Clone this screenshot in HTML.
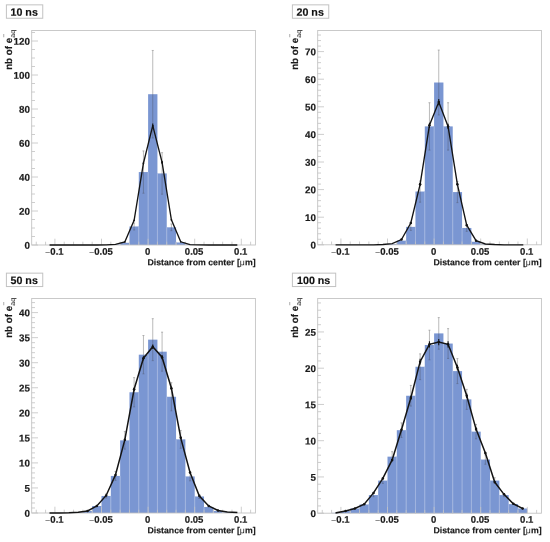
<!DOCTYPE html>
<html lang="en"><head><meta charset="utf-8"><title>Distance from center histograms</title>
<style>html,body{margin:0;padding:0;background:#fff}svg{display:block}</style></head>
<body>
<svg width="550" height="542" viewBox="0 0 550 542" font-family='"Liberation Sans", sans-serif' text-rendering="geometricPrecision">
<rect width="550" height="542" fill="#fff"/>
<g><rect x="110.82" y="244.49" width="9.32" height="0.51" fill="#7a96d2"/>
<rect x="120.14" y="242.79" width="9.32" height="2.21" fill="#7a96d2"/>
<rect x="129.46" y="226.47" width="9.32" height="18.53" fill="#7a96d2"/>
<rect x="138.78" y="172.07" width="9.32" height="72.93" fill="#7a96d2"/>
<rect x="148.1" y="94.21" width="9.32" height="150.79" fill="#7a96d2"/>
<rect x="157.42" y="173.43" width="9.32" height="71.57" fill="#7a96d2"/>
<rect x="166.74" y="227.32" width="9.32" height="17.68" fill="#7a96d2"/>
<rect x="176.06" y="242.45" width="9.32" height="2.55" fill="#7a96d2"/>
<rect x="185.38" y="244.49" width="9.32" height="0.51" fill="#7a96d2"/>
<rect x="128.96" y="242.79" width="1" height="2.21" fill="#a0b4df"/>
<rect x="138.28" y="226.47" width="1" height="18.53" fill="#a0b4df"/>
<rect x="147.6" y="172.07" width="1" height="72.93" fill="#a0b4df"/>
<rect x="156.92" y="173.43" width="1" height="71.57" fill="#a0b4df"/>
<rect x="166.24" y="227.32" width="1" height="17.68" fill="#a0b4df"/>
<rect x="175.56" y="242.45" width="1" height="2.55" fill="#a0b4df"/>
<rect x="31.7" y="30.5" width="223.7" height="214.5" fill="none" stroke="#c0c0c0" stroke-width="0.85"/>
<path d="M36.26 245v-3.3 M45.58 245v-3.3 M54.9 245v-6.3 M64.22 245v-3.3 M73.54 245v-3.3 M82.86 245v-3.3 M92.18 245v-3.3 M101.5 245v-6.3 M110.82 245v-3.3 M120.14 245v-3.3 M129.46 245v-3.3 M138.78 245v-3.3 M148.1 245v-6.3 M157.42 245v-3.3 M166.74 245v-3.3 M176.06 245v-3.3 M185.38 245v-3.3 M194.7 245v-6.3 M204.02 245v-3.3 M213.34 245v-3.3 M222.66 245v-3.3 M231.98 245v-3.3 M241.3 245v-6.3 M250.62 245v-3.3 M31.7 245h6.3 M31.7 236.5h3.3 M31.7 228h3.3 M31.7 219.5h3.3 M31.7 211h6.3 M31.7 202.5h3.3 M31.7 194h3.3 M31.7 185.5h3.3 M31.7 177h6.3 M31.7 168.5h3.3 M31.7 160h3.3 M31.7 151.5h3.3 M31.7 143h6.3 M31.7 134.5h3.3 M31.7 126h3.3 M31.7 117.5h3.3 M31.7 109h6.3 M31.7 100.5h3.3 M31.7 92h3.3 M31.7 83.5h3.3 M31.7 75h6.3 M31.7 66.5h3.3 M31.7 58h3.3 M31.7 49.5h3.3 M31.7 41h6.3 M31.7 32.5h3.3" stroke="#c2c2c2" stroke-width="0.8" fill="none"/>
<path d="M134.12 222.95V226.47M133.12 222.95h2 M143.44 150.92V172.07M142.44 150.92h2 M152.76 50.48V94.21M151.76 50.48h2 M162.08 152.67V173.43M161.08 152.67h2 M171.4 223.96V227.32M170.4 223.96h2" stroke="#8c8c8c" stroke-width="0.6" fill="none"/>
<path d="M134.12 226.47V229.99M133.12 229.99h2 M143.44 172.07V193.22M142.44 193.22h2 M152.76 94.21V137.94M151.76 137.94h2 M162.08 173.43V194.19M161.08 194.19h2 M171.4 227.32V230.68M170.4 230.68h2" stroke="#5a6684" stroke-width="0.6" fill="none"/>
<path d="M50.24 245 L59.56 245 L68.88 245 L78.2 245 L87.52 245 L96.84 245 L106.16 244.83 L115.48 244.32 L124.8 241.94 L134.12 220.35 L143.44 163.23 L152.76 125.66 L162.08 162.38 L171.4 219.84 L180.72 241.77 L190.04 244.66 L199.36 244.91 L208.68 245 L218 245 L227.32 245 L236.64 245" stroke="#141414" stroke-width="1.35" fill="none" stroke-linejoin="miter" stroke-linecap="square"/>
<g fill="#111"><circle cx="124.8" cy="241.94" r="0.85"/><circle cx="134.12" cy="220.35" r="0.85"/><circle cx="143.44" cy="163.23" r="0.85"/><circle cx="152.76" cy="125.66" r="0.85"/><circle cx="162.08" cy="162.38" r="0.85"/><circle cx="171.4" cy="219.84" r="0.85"/><circle cx="180.72" cy="241.77" r="0.85"/></g>
<path d="M143.44 161.81v2.85 M152.76 123.58v4.15 M162.08 160.94v2.88" stroke="#111" stroke-width="1.1" fill="none"/>
<g font-size="9.8" font-weight="bold" fill="#1a1a1a" stroke="#1a1a1a" stroke-width="0.18"><text transform="translate(54.35 254.75) rotate(0.03)" text-anchor="middle" font-size="9.55"><tspan font-size="9" font-weight="normal" stroke="none" dy="0.6">−</tspan><tspan dy="-0.6">0.1</tspan></text><text transform="translate(100.95 254.75) rotate(0.03)" text-anchor="middle" font-size="9.55"><tspan font-size="9" font-weight="normal" stroke="none" dy="0.6">−</tspan><tspan dy="-0.6">0.05</tspan></text><text transform="translate(147.55 254.75) rotate(0.03)" text-anchor="middle" font-size="9.55">0</text><text transform="translate(194.15 254.75) rotate(0.03)" text-anchor="middle" font-size="9.55">0.05</text><text transform="translate(240.75 254.75) rotate(0.03)" text-anchor="middle" font-size="9.55">0.1</text><text transform="translate(29.9 248.7) rotate(0.03)" text-anchor="end">0</text><text transform="translate(29.9 214.7) rotate(0.03)" text-anchor="end">20</text><text transform="translate(29.9 180.7) rotate(0.03)" text-anchor="end">40</text><text transform="translate(29.9 146.7) rotate(0.03)" text-anchor="end">60</text><text transform="translate(29.9 112.7) rotate(0.03)" text-anchor="end">80</text><text transform="translate(29.9 78.7) rotate(0.03)" text-anchor="end">100</text><text transform="translate(29.9 44.7) rotate(0.03)" text-anchor="end">120</text></g>
<text transform="translate(255.6 265.3) rotate(0.03)" text-anchor="end" font-size="8.75" font-weight="bold" fill="#1a1a1a" stroke="#1a1a1a" stroke-width="0.15">Distance from center [<tspan font-weight="normal" stroke="none">μ</tspan>m]</text>
<text transform="translate(11.7 37.9) rotate(-90)" text-anchor="end" font-size="9.75" font-weight="bold" fill="#1a1a1a" stroke="#1a1a1a" stroke-width="0.18">nb of e</text>
<text transform="translate(15.1 37.7) rotate(-90)" font-size="7" font-weight="normal" fill="#111">aq</text>
<text transform="translate(6.3 37.5) rotate(-90)" font-size="6.4" font-weight="normal" fill="#555">−</text>
<rect x="6.4" y="4.85" width="36.35" height="13.4" fill="#fff" stroke="#c2c2c2" stroke-width="1"/>
<text transform="translate(24.18 15.7) rotate(0.03)" text-anchor="middle" font-size="10.7" font-weight="bold" fill="#111" stroke="#111" stroke-width="0.18">10 ns</text></g>
<g><rect x="387.5" y="243.97" width="9.32" height="0.83" fill="#7a96d2"/>
<rect x="396.82" y="240.66" width="9.32" height="4.14" fill="#7a96d2"/>
<rect x="406.14" y="226.86" width="9.32" height="17.94" fill="#7a96d2"/>
<rect x="415.46" y="191.53" width="9.32" height="53.27" fill="#7a96d2"/>
<rect x="424.78" y="126.4" width="9.32" height="118.4" fill="#7a96d2"/>
<rect x="434.1" y="82.51" width="9.32" height="162.29" fill="#7a96d2"/>
<rect x="443.42" y="126.4" width="9.32" height="118.4" fill="#7a96d2"/>
<rect x="452.74" y="192.08" width="9.32" height="52.72" fill="#7a96d2"/>
<rect x="462.06" y="227.96" width="9.32" height="16.84" fill="#7a96d2"/>
<rect x="471.38" y="241.76" width="9.32" height="3.04" fill="#7a96d2"/>
<rect x="480.7" y="244.25" width="9.32" height="0.55" fill="#7a96d2"/>
<rect x="405.64" y="240.66" width="1" height="4.14" fill="#a0b4df"/>
<rect x="414.96" y="226.86" width="1" height="17.94" fill="#a0b4df"/>
<rect x="424.28" y="191.53" width="1" height="53.27" fill="#a0b4df"/>
<rect x="433.6" y="126.4" width="1" height="118.4" fill="#a0b4df"/>
<rect x="442.92" y="126.4" width="1" height="118.4" fill="#a0b4df"/>
<rect x="452.24" y="192.08" width="1" height="52.72" fill="#a0b4df"/>
<rect x="461.56" y="227.96" width="1" height="16.84" fill="#a0b4df"/>
<rect x="470.88" y="241.76" width="1" height="3.04" fill="#a0b4df"/>
<rect x="317.7" y="30.5" width="223.7" height="214.3" fill="none" stroke="#c0c0c0" stroke-width="0.85"/>
<path d="M322.26 244.8v-3.3 M331.58 244.8v-3.3 M340.9 244.8v-6.3 M350.22 244.8v-3.3 M359.54 244.8v-3.3 M368.86 244.8v-3.3 M378.18 244.8v-3.3 M387.5 244.8v-6.3 M396.82 244.8v-3.3 M406.14 244.8v-3.3 M415.46 244.8v-3.3 M424.78 244.8v-3.3 M434.1 244.8v-6.3 M443.42 244.8v-3.3 M452.74 244.8v-3.3 M462.06 244.8v-3.3 M471.38 244.8v-3.3 M480.7 244.8v-6.3 M490.02 244.8v-3.3 M499.34 244.8v-3.3 M508.66 244.8v-3.3 M517.98 244.8v-3.3 M527.3 244.8v-6.3 M536.62 244.8v-3.3 M317.7 244.8h6.3 M317.7 239.28h3.3 M317.7 233.76h3.3 M317.7 228.24h3.3 M317.7 222.72h3.3 M317.7 217.2h6.3 M317.7 211.68h3.3 M317.7 206.16h3.3 M317.7 200.64h3.3 M317.7 195.12h3.3 M317.7 189.6h6.3 M317.7 184.08h3.3 M317.7 178.56h3.3 M317.7 173.04h3.3 M317.7 167.52h3.3 M317.7 162h6.3 M317.7 156.48h3.3 M317.7 150.96h3.3 M317.7 145.44h3.3 M317.7 139.92h3.3 M317.7 134.4h6.3 M317.7 128.88h3.3 M317.7 123.36h3.3 M317.7 117.84h3.3 M317.7 112.32h3.3 M317.7 106.8h6.3 M317.7 101.28h3.3 M317.7 95.76h3.3 M317.7 90.24h3.3 M317.7 84.72h3.3 M317.7 79.2h6.3 M317.7 73.68h3.3 M317.7 68.16h3.3 M317.7 62.64h3.3 M317.7 57.12h3.3 M317.7 51.6h6.3 M317.7 46.08h3.3 M317.7 40.56h3.3 M317.7 35.04h3.3" stroke="#c2c2c2" stroke-width="0.8" fill="none"/>
<path d="M410.8 223.27V226.86M409.8 223.27h2 M420.12 180.88V191.53M419.12 180.88h2 M429.44 102.72V126.4M428.44 102.72h2 M438.76 50.05V82.51M437.76 50.05h2 M448.08 102.72V126.4M447.08 102.72h2 M457.4 181.54V192.08M456.4 181.54h2 M466.72 224.6V227.96M465.72 224.6h2" stroke="#8c8c8c" stroke-width="0.6" fill="none"/>
<path d="M410.8 226.86V230.45M409.8 230.45h2 M420.12 191.53V202.19M419.12 202.19h2 M429.44 126.4V150.08M428.44 150.08h2 M438.76 82.51V114.97M437.76 114.97h2 M448.08 126.4V150.08M447.08 150.08h2 M457.4 192.08V202.63M456.4 202.63h2 M466.72 227.96V231.33M465.72 231.33h2" stroke="#5a6684" stroke-width="0.6" fill="none"/>
<path d="M336.24 244.8 L345.56 244.8 L354.88 244.8 L364.2 244.8 L373.52 244.8 L382.84 244.52 L392.16 243.7 L401.48 239.56 L410.8 223 L420.12 184.36 L429.44 125.29 L438.76 102.11 L448.08 126.4 L457.4 184.36 L466.72 225.2 L476.04 240.66 L485.36 243.97 L494.68 244.52 L504 244.8 L513.32 244.8 L522.64 244.8" stroke="#141414" stroke-width="1.35" fill="none" stroke-linejoin="miter" stroke-linecap="square"/>
<g fill="#111"><circle cx="401.48" cy="239.56" r="1.25"/><circle cx="410.8" cy="223" r="1.25"/><circle cx="420.12" cy="184.36" r="1.25"/><circle cx="429.44" cy="125.29" r="1.25"/><circle cx="438.76" cy="102.11" r="1.25"/><circle cx="448.08" cy="126.4" r="1.25"/><circle cx="457.4" cy="184.36" r="1.25"/><circle cx="466.72" cy="225.2" r="1.25"/><circle cx="476.04" cy="240.66" r="1.25"/></g>
<path d="M420.12 183.03v2.66 M429.44 122.66v5.26 M438.76 98.97v6.28 M448.08 123.79v5.21 M457.4 183.03v2.66" stroke="#111" stroke-width="1.1" fill="none"/>
<g font-size="9.8" font-weight="bold" fill="#1a1a1a" stroke="#1a1a1a" stroke-width="0.18"><text transform="translate(340.35 254.75) rotate(0.03)" text-anchor="middle" font-size="9.55"><tspan font-size="9" font-weight="normal" stroke="none" dy="0.6">−</tspan><tspan dy="-0.6">0.1</tspan></text><text transform="translate(386.95 254.75) rotate(0.03)" text-anchor="middle" font-size="9.55"><tspan font-size="9" font-weight="normal" stroke="none" dy="0.6">−</tspan><tspan dy="-0.6">0.05</tspan></text><text transform="translate(433.55 254.75) rotate(0.03)" text-anchor="middle" font-size="9.55">0</text><text transform="translate(480.15 254.75) rotate(0.03)" text-anchor="middle" font-size="9.55">0.05</text><text transform="translate(526.75 254.75) rotate(0.03)" text-anchor="middle" font-size="9.55">0.1</text><text transform="translate(315.9 248.5) rotate(0.03)" text-anchor="end">0</text><text transform="translate(315.9 220.9) rotate(0.03)" text-anchor="end">10</text><text transform="translate(315.9 193.3) rotate(0.03)" text-anchor="end">20</text><text transform="translate(315.9 165.7) rotate(0.03)" text-anchor="end">30</text><text transform="translate(315.9 138.1) rotate(0.03)" text-anchor="end">40</text><text transform="translate(315.9 110.5) rotate(0.03)" text-anchor="end">50</text><text transform="translate(315.9 82.9) rotate(0.03)" text-anchor="end">60</text><text transform="translate(315.9 55.3) rotate(0.03)" text-anchor="end">70</text></g>
<text transform="translate(541.6 265.3) rotate(0.03)" text-anchor="end" font-size="8.75" font-weight="bold" fill="#1a1a1a" stroke="#1a1a1a" stroke-width="0.15">Distance from center [<tspan font-weight="normal" stroke="none">μ</tspan>m]</text>
<text transform="translate(297.7 37.9) rotate(-90)" text-anchor="end" font-size="9.75" font-weight="bold" fill="#1a1a1a" stroke="#1a1a1a" stroke-width="0.18">nb of e</text>
<text transform="translate(301.1 37.7) rotate(-90)" font-size="7" font-weight="normal" fill="#111">aq</text>
<text transform="translate(292.3 37.5) rotate(-90)" font-size="6.4" font-weight="normal" fill="#555">−</text>
<rect x="292.4" y="4.85" width="36.35" height="13.4" fill="#fff" stroke="#c2c2c2" stroke-width="1"/>
<text transform="translate(310.18 15.7) rotate(0.03)" text-anchor="middle" font-size="10.7" font-weight="bold" fill="#111" stroke="#111" stroke-width="0.18">20 ns</text></g>
<g><rect x="73.54" y="512.5" width="9.32" height="0.5" fill="#7a96d2"/>
<rect x="82.86" y="511" width="9.32" height="2" fill="#7a96d2"/>
<rect x="92.18" y="505.99" width="9.32" height="7.01" fill="#7a96d2"/>
<rect x="101.5" y="495.97" width="9.32" height="17.03" fill="#7a96d2"/>
<rect x="110.82" y="475.93" width="9.32" height="37.07" fill="#7a96d2"/>
<rect x="120.14" y="440.36" width="9.32" height="72.64" fill="#7a96d2"/>
<rect x="129.46" y="392.26" width="9.32" height="120.74" fill="#7a96d2"/>
<rect x="138.78" y="354.68" width="9.32" height="158.32" fill="#7a96d2"/>
<rect x="148.1" y="339.65" width="9.32" height="173.35" fill="#7a96d2"/>
<rect x="157.42" y="351.68" width="9.32" height="161.32" fill="#7a96d2"/>
<rect x="166.74" y="396.77" width="9.32" height="116.23" fill="#7a96d2"/>
<rect x="176.06" y="439.35" width="9.32" height="73.65" fill="#7a96d2"/>
<rect x="185.38" y="476.43" width="9.32" height="36.57" fill="#7a96d2"/>
<rect x="194.7" y="496.47" width="9.32" height="16.53" fill="#7a96d2"/>
<rect x="204.02" y="506.99" width="9.32" height="6.01" fill="#7a96d2"/>
<rect x="213.34" y="511" width="9.32" height="2" fill="#7a96d2"/>
<rect x="222.66" y="512.5" width="9.32" height="0.5" fill="#7a96d2"/>
<rect x="91.68" y="511" width="1" height="2" fill="#a0b4df"/>
<rect x="101" y="505.99" width="1" height="7.01" fill="#a0b4df"/>
<rect x="110.32" y="495.97" width="1" height="17.03" fill="#a0b4df"/>
<rect x="119.64" y="475.93" width="1" height="37.07" fill="#a0b4df"/>
<rect x="128.96" y="440.36" width="1" height="72.64" fill="#a0b4df"/>
<rect x="138.28" y="392.26" width="1" height="120.74" fill="#a0b4df"/>
<rect x="147.6" y="354.68" width="1" height="158.32" fill="#a0b4df"/>
<rect x="156.92" y="351.68" width="1" height="161.32" fill="#a0b4df"/>
<rect x="166.24" y="396.77" width="1" height="116.23" fill="#a0b4df"/>
<rect x="175.56" y="439.35" width="1" height="73.65" fill="#a0b4df"/>
<rect x="184.88" y="476.43" width="1" height="36.57" fill="#a0b4df"/>
<rect x="194.2" y="496.47" width="1" height="16.53" fill="#a0b4df"/>
<rect x="203.52" y="506.99" width="1" height="6.01" fill="#a0b4df"/>
<rect x="212.84" y="511" width="1" height="2" fill="#a0b4df"/>
<rect x="31.7" y="298.5" width="223.7" height="214.5" fill="none" stroke="#c0c0c0" stroke-width="0.85"/>
<path d="M36.26 513v-3.3 M45.58 513v-3.3 M54.9 513v-6.3 M64.22 513v-3.3 M73.54 513v-3.3 M82.86 513v-3.3 M92.18 513v-3.3 M101.5 513v-6.3 M110.82 513v-3.3 M120.14 513v-3.3 M129.46 513v-3.3 M138.78 513v-3.3 M148.1 513v-6.3 M157.42 513v-3.3 M166.74 513v-3.3 M176.06 513v-3.3 M185.38 513v-3.3 M194.7 513v-6.3 M204.02 513v-3.3 M213.34 513v-3.3 M222.66 513v-3.3 M231.98 513v-3.3 M241.3 513v-6.3 M250.62 513v-3.3 M31.7 513h6.3 M31.7 507.99h3.3 M31.7 502.98h3.3 M31.7 497.97h3.3 M31.7 492.96h3.3 M31.7 487.95h6.3 M31.7 482.94h3.3 M31.7 477.93h3.3 M31.7 472.92h3.3 M31.7 467.91h3.3 M31.7 462.9h6.3 M31.7 457.89h3.3 M31.7 452.88h3.3 M31.7 447.87h3.3 M31.7 442.86h3.3 M31.7 437.85h6.3 M31.7 432.84h3.3 M31.7 427.83h3.3 M31.7 422.82h3.3 M31.7 417.81h3.3 M31.7 412.8h6.3 M31.7 407.79h3.3 M31.7 402.78h3.3 M31.7 397.77h3.3 M31.7 392.76h3.3 M31.7 387.75h6.3 M31.7 382.74h3.3 M31.7 377.73h3.3 M31.7 372.72h3.3 M31.7 367.71h3.3 M31.7 362.7h6.3 M31.7 357.69h3.3 M31.7 352.68h3.3 M31.7 347.67h3.3 M31.7 342.66h3.3 M31.7 337.65h6.3 M31.7 332.64h3.3 M31.7 327.63h3.3 M31.7 322.62h3.3 M31.7 317.61h3.3 M31.7 312.6h6.3 M31.7 307.59h3.3 M31.7 302.58h3.3" stroke="#c2c2c2" stroke-width="0.8" fill="none"/>
<path d="M106.16 493.9V495.97M105.16 493.9h2 M115.48 471.44V475.93M114.48 471.44h2 M124.8 431.56V440.36M123.8 431.56h2 M134.12 377.65V392.26M133.12 377.65h2 M143.44 335.53V354.68M142.44 335.53h2 M152.76 318.68V339.65M151.76 318.68h2 M162.08 332.16V351.68M161.08 332.16h2 M171.4 382.7V396.77M170.4 382.7h2 M180.72 430.44V439.35M179.72 430.44h2 M190.04 472V476.43M189.04 472h2 M199.36 494.47V496.47M198.36 494.47h2" stroke="#8c8c8c" stroke-width="0.6" fill="none"/>
<path d="M106.16 495.97V498.03M105.16 498.03h2 M115.48 475.93V480.41M114.48 480.41h2 M124.8 440.36V449.15M123.8 449.15h2 M134.12 392.26V406.87M133.12 406.87h2 M143.44 354.68V373.84M142.44 373.84h2 M152.76 339.65V360.63M151.76 360.63h2 M162.08 351.68V371.2M161.08 371.2h2 M171.4 396.77V410.83M170.4 410.83h2 M180.72 439.35V448.26M179.72 448.26h2 M190.04 476.43V480.85M189.04 480.85h2 M199.36 496.47V498.47M198.36 498.47h2" stroke="#5a6684" stroke-width="0.6" fill="none"/>
<path d="M50.24 513 L59.56 513 L68.88 512.75 L78.2 512.25 L87.52 511 L96.84 505.99 L106.16 495.46 L115.48 474.92 L124.8 439.85 L134.12 389.25 L143.44 358.19 L152.76 346.67 L162.08 357.19 L171.4 388.25 L180.72 437.85 L190.04 472.42 L199.36 495.97 L208.68 505.99 L218 510.5 L227.32 512 L236.64 512.5" stroke="#141414" stroke-width="1.5" fill="none" stroke-linejoin="miter" stroke-linecap="square"/>
<g fill="#111"><circle cx="87.52" cy="511" r="1.25"/><circle cx="96.84" cy="505.99" r="1.25"/><circle cx="106.16" cy="495.46" r="1.25"/><circle cx="115.48" cy="474.92" r="1.25"/><circle cx="124.8" cy="439.85" r="1.25"/><circle cx="134.12" cy="389.25" r="1.25"/><circle cx="143.44" cy="358.19" r="1.25"/><circle cx="152.76" cy="346.67" r="1.25"/><circle cx="162.08" cy="357.19" r="1.25"/><circle cx="171.4" cy="388.25" r="1.25"/><circle cx="180.72" cy="437.85" r="1.25"/><circle cx="190.04" cy="472.42" r="1.25"/><circle cx="199.36" cy="495.97" r="1.25"/><circle cx="208.68" cy="505.99" r="1.25"/><circle cx="218" cy="510.5" r="1.25"/></g>
<path d="M124.8 438.88v1.95 M134.12 387.61v3.29 M143.44 356.13v4.12 M152.76 344.45v4.43 M162.08 355.12v4.15 M171.4 386.59v3.32 M180.72 436.85v2" stroke="#111" stroke-width="1.1" fill="none"/>
<g font-size="9.8" font-weight="bold" fill="#1a1a1a" stroke="#1a1a1a" stroke-width="0.18"><text transform="translate(54.35 522.75) rotate(0.03)" text-anchor="middle" font-size="9.55"><tspan font-size="9" font-weight="normal" stroke="none" dy="0.6">−</tspan><tspan dy="-0.6">0.1</tspan></text><text transform="translate(100.95 522.75) rotate(0.03)" text-anchor="middle" font-size="9.55"><tspan font-size="9" font-weight="normal" stroke="none" dy="0.6">−</tspan><tspan dy="-0.6">0.05</tspan></text><text transform="translate(147.55 522.75) rotate(0.03)" text-anchor="middle" font-size="9.55">0</text><text transform="translate(194.15 522.75) rotate(0.03)" text-anchor="middle" font-size="9.55">0.05</text><text transform="translate(240.75 522.75) rotate(0.03)" text-anchor="middle" font-size="9.55">0.1</text><text transform="translate(29.9 516.7) rotate(0.03)" text-anchor="end">0</text><text transform="translate(29.9 491.65) rotate(0.03)" text-anchor="end">5</text><text transform="translate(29.9 466.6) rotate(0.03)" text-anchor="end">10</text><text transform="translate(29.9 441.55) rotate(0.03)" text-anchor="end">15</text><text transform="translate(29.9 416.5) rotate(0.03)" text-anchor="end">20</text><text transform="translate(29.9 391.45) rotate(0.03)" text-anchor="end">25</text><text transform="translate(29.9 366.4) rotate(0.03)" text-anchor="end">30</text><text transform="translate(29.9 341.35) rotate(0.03)" text-anchor="end">35</text><text transform="translate(29.9 316.3) rotate(0.03)" text-anchor="end">40</text></g>
<text transform="translate(255.6 533.3) rotate(0.03)" text-anchor="end" font-size="8.75" font-weight="bold" fill="#1a1a1a" stroke="#1a1a1a" stroke-width="0.15">Distance from center [<tspan font-weight="normal" stroke="none">μ</tspan>m]</text>
<text transform="translate(11.7 305.9) rotate(-90)" text-anchor="end" font-size="9.75" font-weight="bold" fill="#1a1a1a" stroke="#1a1a1a" stroke-width="0.18">nb of e</text>
<text transform="translate(15.1 305.7) rotate(-90)" font-size="7" font-weight="normal" fill="#111">aq</text>
<text transform="translate(6.3 305.5) rotate(-90)" font-size="6.4" font-weight="normal" fill="#555">−</text>
<rect x="6.4" y="273.15" width="36.35" height="13.4" fill="#fff" stroke="#c2c2c2" stroke-width="1"/>
<text transform="translate(24.18 284) rotate(0.03)" text-anchor="middle" font-size="10.7" font-weight="bold" fill="#111" stroke="#111" stroke-width="0.18">50 ns</text></g>
<g><rect x="331.58" y="512.84" width="9.32" height="0.36" fill="#7a96d2"/>
<rect x="340.9" y="511.03" width="9.32" height="2.18" fill="#7a96d2"/>
<rect x="350.22" y="508.49" width="9.32" height="4.71" fill="#7a96d2"/>
<rect x="359.54" y="504.5" width="9.32" height="8.7" fill="#7a96d2"/>
<rect x="368.86" y="495.08" width="9.32" height="18.12" fill="#7a96d2"/>
<rect x="378.18" y="480.58" width="9.32" height="32.62" fill="#7a96d2"/>
<rect x="387.5" y="456.65" width="9.32" height="56.55" fill="#7a96d2"/>
<rect x="396.82" y="430.19" width="9.32" height="83.01" fill="#7a96d2"/>
<rect x="406.14" y="395.75" width="9.32" height="117.45" fill="#7a96d2"/>
<rect x="415.46" y="366.75" width="9.32" height="146.45" fill="#7a96d2"/>
<rect x="424.78" y="345" width="9.32" height="168.2" fill="#7a96d2"/>
<rect x="434.1" y="333.4" width="9.32" height="179.8" fill="#7a96d2"/>
<rect x="443.42" y="343.55" width="9.32" height="169.65" fill="#7a96d2"/>
<rect x="452.74" y="371.1" width="9.32" height="142.1" fill="#7a96d2"/>
<rect x="462.06" y="399.38" width="9.32" height="113.82" fill="#7a96d2"/>
<rect x="471.38" y="431.64" width="9.32" height="81.56" fill="#7a96d2"/>
<rect x="480.7" y="459.55" width="9.32" height="53.65" fill="#7a96d2"/>
<rect x="490.02" y="480.58" width="9.32" height="32.62" fill="#7a96d2"/>
<rect x="499.34" y="495.08" width="9.32" height="18.12" fill="#7a96d2"/>
<rect x="508.66" y="504.14" width="9.32" height="9.06" fill="#7a96d2"/>
<rect x="517.98" y="508.49" width="9.32" height="4.71" fill="#7a96d2"/>
<rect x="349.72" y="511.03" width="1" height="2.18" fill="#a0b4df"/>
<rect x="359.04" y="508.49" width="1" height="4.71" fill="#a0b4df"/>
<rect x="368.36" y="504.5" width="1" height="8.7" fill="#a0b4df"/>
<rect x="377.68" y="495.08" width="1" height="18.12" fill="#a0b4df"/>
<rect x="387" y="480.58" width="1" height="32.62" fill="#a0b4df"/>
<rect x="396.32" y="456.65" width="1" height="56.55" fill="#a0b4df"/>
<rect x="405.64" y="430.19" width="1" height="83.01" fill="#a0b4df"/>
<rect x="414.96" y="395.75" width="1" height="117.45" fill="#a0b4df"/>
<rect x="424.28" y="366.75" width="1" height="146.45" fill="#a0b4df"/>
<rect x="433.6" y="345" width="1" height="168.2" fill="#a0b4df"/>
<rect x="442.92" y="343.55" width="1" height="169.65" fill="#a0b4df"/>
<rect x="452.24" y="371.1" width="1" height="142.1" fill="#a0b4df"/>
<rect x="461.56" y="399.38" width="1" height="113.82" fill="#a0b4df"/>
<rect x="470.88" y="431.64" width="1" height="81.56" fill="#a0b4df"/>
<rect x="480.2" y="459.55" width="1" height="53.65" fill="#a0b4df"/>
<rect x="489.52" y="480.58" width="1" height="32.62" fill="#a0b4df"/>
<rect x="498.84" y="495.08" width="1" height="18.12" fill="#a0b4df"/>
<rect x="508.16" y="504.14" width="1" height="9.06" fill="#a0b4df"/>
<rect x="517.48" y="508.49" width="1" height="4.71" fill="#a0b4df"/>
<rect x="317.7" y="298.5" width="223.7" height="214.7" fill="none" stroke="#c0c0c0" stroke-width="0.85"/>
<path d="M322.26 513.2v-3.3 M331.58 513.2v-3.3 M340.9 513.2v-6.3 M350.22 513.2v-3.3 M359.54 513.2v-3.3 M368.86 513.2v-3.3 M378.18 513.2v-3.3 M387.5 513.2v-6.3 M396.82 513.2v-3.3 M406.14 513.2v-3.3 M415.46 513.2v-3.3 M424.78 513.2v-3.3 M434.1 513.2v-6.3 M443.42 513.2v-3.3 M452.74 513.2v-3.3 M462.06 513.2v-3.3 M471.38 513.2v-3.3 M480.7 513.2v-6.3 M490.02 513.2v-3.3 M499.34 513.2v-3.3 M508.66 513.2v-3.3 M517.98 513.2v-3.3 M527.3 513.2v-6.3 M536.62 513.2v-3.3 M317.7 513.2h6.3 M317.7 505.95h3.3 M317.7 498.7h3.3 M317.7 491.45h3.3 M317.7 484.2h3.3 M317.7 476.95h6.3 M317.7 469.7h3.3 M317.7 462.45h3.3 M317.7 455.2h3.3 M317.7 447.95h3.3 M317.7 440.7h6.3 M317.7 433.45h3.3 M317.7 426.2h3.3 M317.7 418.95h3.3 M317.7 411.7h3.3 M317.7 404.45h6.3 M317.7 397.2h3.3 M317.7 389.95h3.3 M317.7 382.7h3.3 M317.7 375.45h3.3 M317.7 368.2h6.3 M317.7 360.95h3.3 M317.7 353.7h3.3 M317.7 346.45h3.3 M317.7 339.2h3.3 M317.7 331.95h6.3 M317.7 324.7h3.3 M317.7 317.45h3.3 M317.7 310.2h3.3 M317.7 302.95h3.3" stroke="#c2c2c2" stroke-width="0.8" fill="none"/>
<path d="M373.52 493.48V495.08M372.52 493.48h2 M382.84 477.7V480.58M381.84 477.7h2 M392.16 451.67V456.65M391.16 451.67h2 M401.48 422.88V430.19M400.48 422.88h2 M410.8 385.41V395.75M409.8 385.41h2 M420.12 353.86V366.75M419.12 353.86h2 M429.44 330.2V345M428.44 330.2h2 M438.76 317.58V333.4M437.76 317.58h2 M448.08 328.62V343.55M447.08 328.62h2 M457.4 358.6V371.1M456.4 358.6h2 M466.72 389.36V399.38M465.72 389.36h2 M476.04 424.46V431.64M475.04 424.46h2 M485.36 454.83V459.55M484.36 454.83h2 M494.68 477.7V480.58M493.68 477.7h2 M504 493.48V495.08M503 493.48h2" stroke="#8c8c8c" stroke-width="0.6" fill="none"/>
<path d="M373.52 495.08V496.67M372.52 496.67h2 M382.84 480.58V483.45M381.84 483.45h2 M392.16 456.65V461.63M391.16 461.63h2 M401.48 430.19V437.49M400.48 437.49h2 M410.8 395.75V406.09M409.8 406.09h2 M420.12 366.75V379.64M419.12 379.64h2 M429.44 345V359.8M428.44 359.8h2 M438.76 333.4V349.22M437.76 349.22h2 M448.08 343.55V358.48M447.08 358.48h2 M457.4 371.1V383.6M456.4 383.6h2 M466.72 399.38V409.39M465.72 409.39h2 M476.04 431.64V438.82M475.04 438.82h2 M485.36 459.55V464.27M484.36 464.27h2 M494.68 480.58V483.45M493.68 483.45h2 M504 495.08V496.67M503 496.67h2" stroke="#5a6684" stroke-width="0.6" fill="none"/>
<path d="M336.24 512.84 L345.56 511.03 L354.88 508.49 L364.2 504.14 L373.52 492.9 L382.84 478.4 L392.16 459.91 L401.48 429.83 L410.8 397.93 L420.12 361.68 L429.44 344.28 L438.76 342.1 L448.08 344.28 L457.4 367.48 L466.72 395.75 L476.04 429.1 L485.36 453.03 L494.68 482.03 L504 494.35 L513.32 503.78 L522.64 508.49" stroke="#141414" stroke-width="1.5" fill="none" stroke-linejoin="miter" stroke-linecap="square"/>
<g fill="#111"><circle cx="345.56" cy="511.03" r="1.25"/><circle cx="354.88" cy="508.49" r="1.25"/><circle cx="364.2" cy="504.14" r="1.25"/><circle cx="373.52" cy="492.9" r="1.25"/><circle cx="382.84" cy="478.4" r="1.25"/><circle cx="392.16" cy="459.91" r="1.25"/><circle cx="401.48" cy="429.83" r="1.25"/><circle cx="410.8" cy="397.93" r="1.25"/><circle cx="420.12" cy="361.68" r="1.25"/><circle cx="429.44" cy="344.28" r="1.25"/><circle cx="438.76" cy="342.1" r="1.25"/><circle cx="448.08" cy="344.28" r="1.25"/><circle cx="457.4" cy="367.48" r="1.25"/><circle cx="466.72" cy="395.75" r="1.25"/><circle cx="476.04" cy="429.1" r="1.25"/><circle cx="485.36" cy="453.03" r="1.25"/><circle cx="494.68" cy="482.03" r="1.25"/><circle cx="504" cy="494.35" r="1.25"/><circle cx="513.32" cy="503.78" r="1.25"/><circle cx="522.64" cy="508.49" r="1.25"/></g>
<path d="M392.16 458.93v1.97 M401.48 428.28v3.08 M410.8 395.79v4.26 M420.12 358.87v5.6 M429.44 341.15v6.24 M438.76 338.94v6.32 M448.08 341.15v6.24 M457.4 364.78v5.39 M466.72 393.58v4.34 M476.04 427.55v3.11 M485.36 451.91v2.22" stroke="#111" stroke-width="1.1" fill="none"/>
<g font-size="9.8" font-weight="bold" fill="#1a1a1a" stroke="#1a1a1a" stroke-width="0.18"><text transform="translate(340.35 522.75) rotate(0.03)" text-anchor="middle" font-size="9.55"><tspan font-size="9" font-weight="normal" stroke="none" dy="0.6">−</tspan><tspan dy="-0.6">0.1</tspan></text><text transform="translate(386.95 522.75) rotate(0.03)" text-anchor="middle" font-size="9.55"><tspan font-size="9" font-weight="normal" stroke="none" dy="0.6">−</tspan><tspan dy="-0.6">0.05</tspan></text><text transform="translate(433.55 522.75) rotate(0.03)" text-anchor="middle" font-size="9.55">0</text><text transform="translate(480.15 522.75) rotate(0.03)" text-anchor="middle" font-size="9.55">0.05</text><text transform="translate(526.75 522.75) rotate(0.03)" text-anchor="middle" font-size="9.55">0.1</text><text transform="translate(315.9 516.9) rotate(0.03)" text-anchor="end">0</text><text transform="translate(315.9 480.65) rotate(0.03)" text-anchor="end">5</text><text transform="translate(315.9 444.4) rotate(0.03)" text-anchor="end">10</text><text transform="translate(315.9 408.15) rotate(0.03)" text-anchor="end">15</text><text transform="translate(315.9 371.9) rotate(0.03)" text-anchor="end">20</text><text transform="translate(315.9 335.65) rotate(0.03)" text-anchor="end">25</text></g>
<text transform="translate(541.6 533.3) rotate(0.03)" text-anchor="end" font-size="8.75" font-weight="bold" fill="#1a1a1a" stroke="#1a1a1a" stroke-width="0.15">Distance from center [<tspan font-weight="normal" stroke="none">μ</tspan>m]</text>
<text transform="translate(297.7 305.9) rotate(-90)" text-anchor="end" font-size="9.75" font-weight="bold" fill="#1a1a1a" stroke="#1a1a1a" stroke-width="0.18">nb of e</text>
<text transform="translate(301.1 305.7) rotate(-90)" font-size="7" font-weight="normal" fill="#111">aq</text>
<text transform="translate(292.3 305.5) rotate(-90)" font-size="6.4" font-weight="normal" fill="#555">−</text>
<rect x="292.4" y="273.15" width="43.3" height="13.4" fill="#fff" stroke="#c2c2c2" stroke-width="1"/>
<text transform="translate(313.65 284) rotate(0.03)" text-anchor="middle" font-size="10.7" font-weight="bold" fill="#111" stroke="#111" stroke-width="0.18">100 ns</text></g>
</svg>
</body></html>
